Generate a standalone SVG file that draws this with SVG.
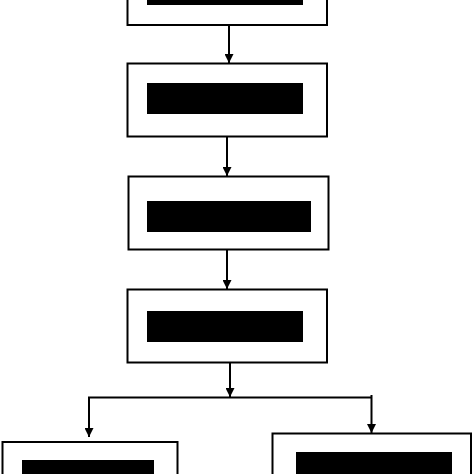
<svg xmlns="http://www.w3.org/2000/svg" width="474" height="474" viewBox="0 0 474 474">
<defs>
<style>
.box{fill:#fff;stroke:#000;stroke-width:2}
.bar{fill:#000}
.c{fill:none;stroke:#000;stroke-width:2}
</style>
<marker id="ah" viewBox="0 0 10 10" refX="10" refY="5" markerWidth="4.5" markerHeight="4.5" orient="auto" markerUnits="strokeWidth">
<path d="M0,0 L10,5 L0,10 z" fill="#000"/>
</marker>
</defs>
<rect width="474" height="474" fill="#fff"/>
<g id="connectors">
<line class="c" x1="229" y1="25" x2="229" y2="63" marker-end="url(#ah)"/>
<line class="c" x1="227" y1="137" x2="227" y2="176" marker-end="url(#ah)"/>
<line class="c" x1="227" y1="250" x2="227" y2="289" marker-end="url(#ah)"/>
<line class="c" x1="230" y1="359" x2="230" y2="397" marker-end="url(#ah)"/>
<polyline class="c" points="89,437 89,397.5 371.5,397.5"/>
<line class="c" x1="89" y1="410" x2="89" y2="437" marker-end="url(#ah)"/>
<line class="c" x1="371.5" y1="395" x2="371.5" y2="433" marker-end="url(#ah)"/>
</g>
<g id="node1">
<rect class="box" x="127.5" y="-10" width="199.5" height="35"/>
<rect class="bar" x="147" y="-5" width="156" height="10"/>
</g>
<g id="node2">
<rect class="box" x="127.5" y="63.5" width="199.5" height="73"/>
<rect class="bar" x="147" y="83" width="156" height="31"/>
</g>
<g id="node3">
<rect class="box" x="128.5" y="176.5" width="200" height="73"/>
<rect class="bar" x="147" y="201" width="164" height="31"/>
</g>
<g id="node4">
<rect class="box" x="127.5" y="289.5" width="199.5" height="73"/>
<rect class="bar" x="147" y="311" width="156" height="31"/>
</g>
<g id="node5">
<rect class="box" x="2.5" y="442" width="175" height="50"/>
<rect class="bar" x="22" y="460" width="132" height="30"/>
</g>
<g id="node6">
<rect class="box" x="272.5" y="433.5" width="198.5" height="60"/>
<rect class="bar" x="296" y="452" width="156" height="40"/>
</g>
</svg>
